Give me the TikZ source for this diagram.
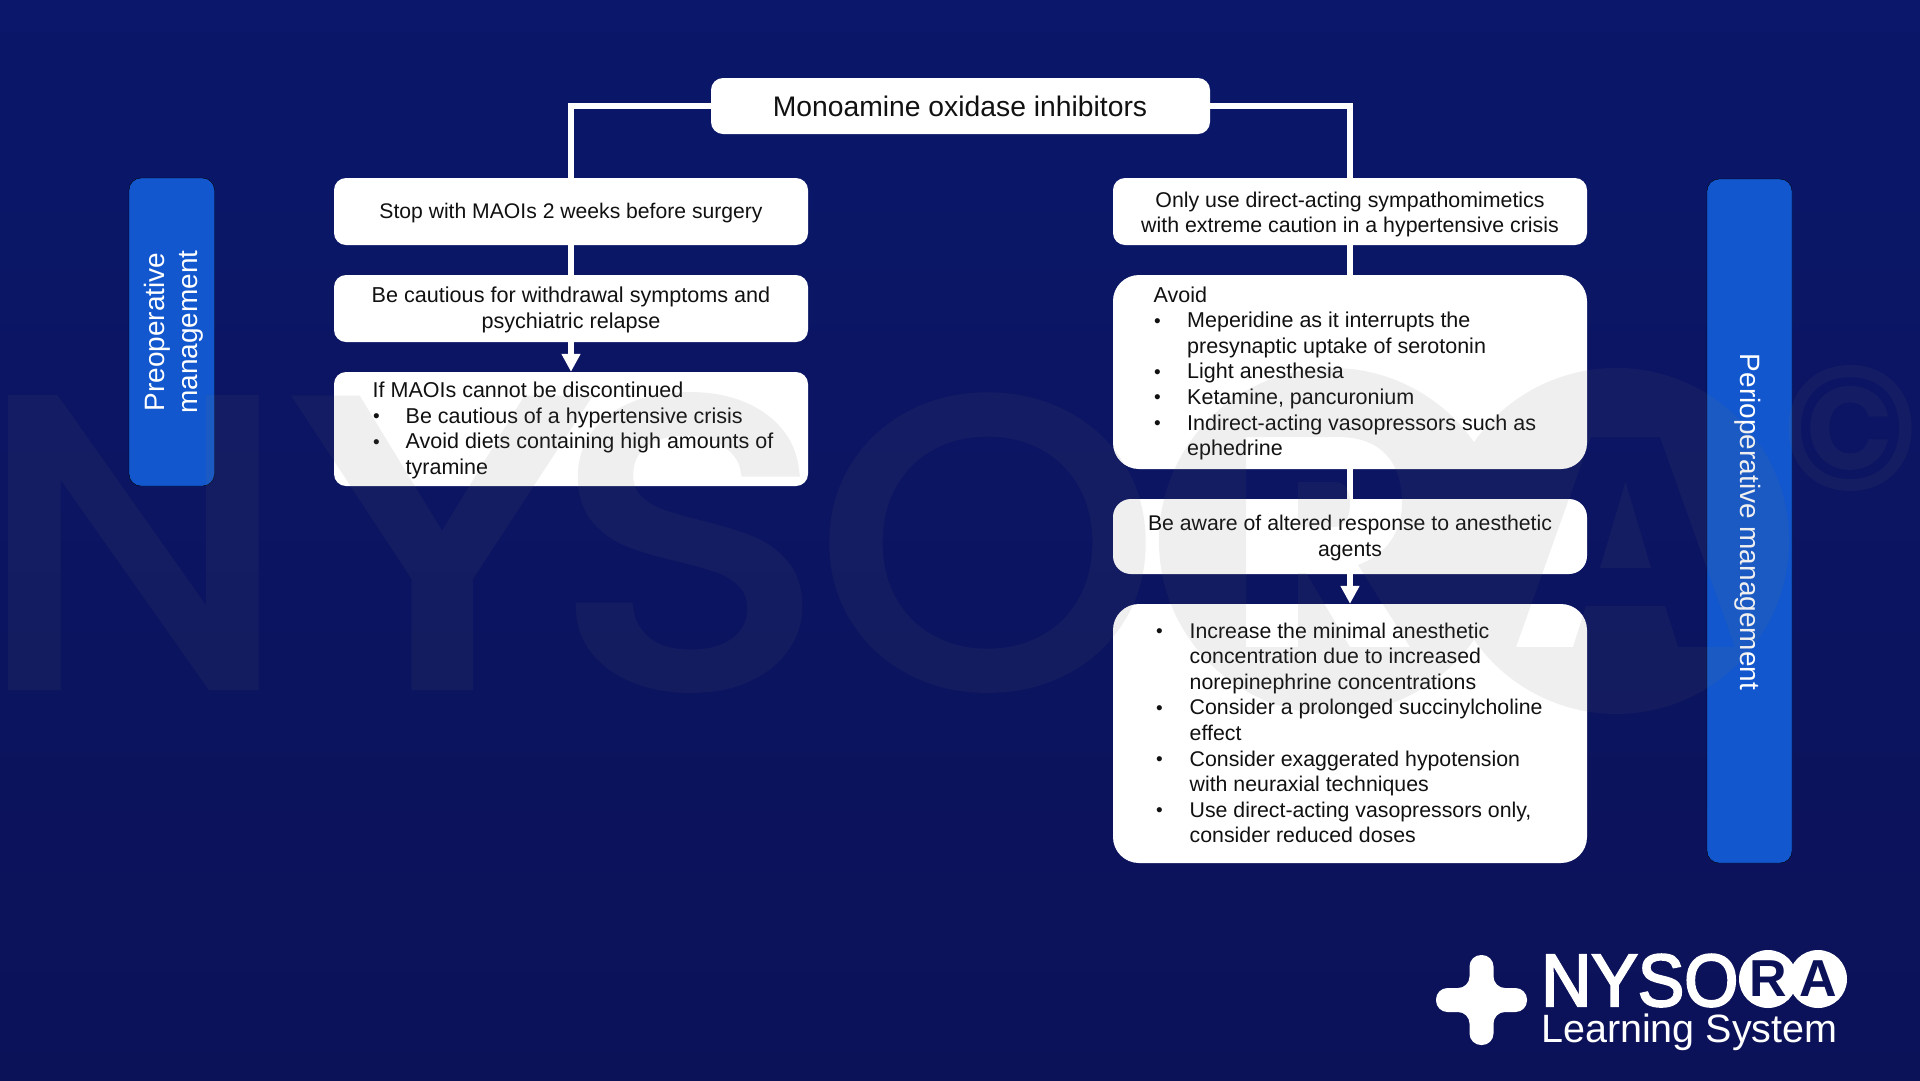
\documentclass[tikz,border=0pt]{standalone}
\usepackage{graphicx}
\usepackage{fontspec}
\usetikzlibrary{arrows.meta}
\setmainfont{Liberation Sans}
\newfontfamily\wmfont[FakeBold=3]{Poppins}
\newfontfamily\logofont[FakeBold=3]{Liberation Sans}
\definecolor{navytop}{HTML}{0A176A}
\definecolor{navymid}{HTML}{0A1562}
\definecolor{navybot}{HTML}{0C1258}
\definecolor{barblue}{HTML}{1257CE}
\definecolor{ink}{HTML}{111111}
\definecolor{wmgray}{gray}{0.42}
\newcommand\blk[3]{\parbox[t]{#1pt}{\fontsize{#2}{25.6}\selectfont\setlength{\baselineskip}{25.6pt}\raggedright #3}}
\newcommand\blc[3]{\parbox[t]{#1pt}{\fontsize{#2}{25.6}\selectfont\setlength{\baselineskip}{25.6pt}\centering #3}}
\newcommand\bul[1]{\makebox[#1pt][l]{\hspace{0.5pt}\fontsize{19}{19}\selectfont\raisebox{0.5pt}{•}}}
\newcommand\wmglyph[2]{\scalebox{#1}[1]{\fontsize{405}{405}\selectfont\wmfont #2}}
\tikzset{
  x=1pt,y=-1pt,
  card/.style={fill=white,rounded corners=12pt,inner sep=0pt},
  bigcard/.style={fill=white,rounded corners=26pt,inner sep=0pt},
  bar/.style={fill=barblue,rounded corners=12pt},
  txt/.style={inner sep=0pt,text=ink},
  link/.style={draw=white,line width=5.5pt},
  linkarrow/.style={link,-{Triangle[length=18pt,width=18pt]}},
  wmark/.style={inner sep=0pt,anchor=base west,text=wmgray},
  sidelabel/.style={inner sep=0pt,text=white,font=\fontsize{28}{33}\selectfont,align=center},
}
\begin{document}
\begin{tikzpicture}
\useasboundingbox (0,0) rectangle (1920,1080);
\shade[top color=navytop,middle color=navymid,bottom color=navybot] (0,0) rectangle (1920,1080);

% side bars
\draw[bar] (129,178) rectangle (214.5,486);
\draw[bar] (1707,179) rectangle (1792,863);
\node[sidelabel,rotate=90] (preop) at (173.5,332) {Preoperative\\management};
\node[sidelabel,rotate=-90] (periop) at (1748,522) {Perioperative management};

% boxes
\node[card,minimum width=499pt,minimum height=56pt] (top) at (960.5,106) {};
\node[card,minimum width=474pt,minimum height=67pt] (l1) at (571,211.5) {};
\node[card,minimum width=474pt,minimum height=67pt] (l2) at (571,308.5) {};
\node[card,minimum width=474pt,minimum height=114pt] (l3) at (571,429) {};
\node[card,minimum width=474pt,minimum height=67pt] (r1) at (1350,211.5) {};
\node[bigcard,minimum width=474pt,minimum height=194pt] (r2) at (1350,372) {};
\node[card,minimum width=474pt,minimum height=75pt,rounded corners=18pt] (r3) at (1350,536.5) {};
\node[bigcard,minimum width=474pt,minimum height=259pt] (r4) at (1350,733.5) {};

% connectors
\draw[link] (top.west) -| (l1.north);
\draw[link] (l1.south) -- (l2.north);
\draw[linkarrow] (l2.south) -- (l3.north);
\draw[link] (top.east) -| (r1.north);
\draw[link] (r1.south) -- (r2.north);
\draw[link] (r2.south) -- (r3.north);
\draw[linkarrow] (r3.south) -- (r4.north);

% texts
\node[txt,font=\fontsize{28.3}{32}\selectfont,anchor=base] (toptxt) at (960,116) {Monoamine oxidase inhibitors};
\node[txt,anchor=base] (l1t) at (571,218.5) {\blc{470}{21.15}{Stop with MAOIs 2 weeks before surgery}};
\node[txt,anchor=base] (l2t) at (571,302.5) {\blc{470}{21.6}{Be cautious for withdrawal symptoms and\\psychiatric relapse}};
\node[txt,anchor=base west] (l3t) at (372.5,397.7) {\blk{430}{21.5}{If MAOIs cannot be discontinued\\
\bul{33}Be cautious of a hypertensive crisis\\
\bul{33}Avoid diets containing high amounts of\\
\hspace*{33pt}tyramine}};
\node[txt,anchor=base] (r1t) at (1350,207) {\blc{470}{21.35}{Only use direct-acting sympathomimetics\\with extreme caution in a hypertensive crisis}};
\node[txt,anchor=base west] (r2t) at (1153.5,302) {\blk{430}{21.5}{Avoid\\
\bul{33.5}Meperidine as it interrupts the\\
\hspace*{33.5pt}presynaptic uptake of serotonin\\
\bul{33.5}Light anesthesia\\
\bul{33.5}Ketamine, pancuronium\\
\bul{33.5}Indirect-acting vasopressors such as\\
\hspace*{33.5pt}ephedrine}};
\node[txt,anchor=base] (r3t) at (1350,530.5) {\blc{470}{21.25}{Be aware of altered response to anesthetic\\agents}};
\node[txt,anchor=base west] (r4t) at (1155.5,638) {\blk{430}{21.3}{\bul{34}Increase the minimal anesthetic\\
\hspace*{34pt}concentration due to increased\\
\hspace*{34pt}norepinephrine concentrations\\
\bul{34}Consider a prolonged succinylcholine\\
\hspace*{34pt}effect\\
\bul{34}Consider exaggerated hypotension\\
\hspace*{34pt}with neuraxial techniques\\
\bul{34}Use direct-acting vasopressors only,\\
\hspace*{34pt}consider reduced doses}};

% watermark
\begin{scope}[transparency group,opacity=.1]
\node[wmark] (wn) at (-19,684) {\wmglyph{1.07}{N}};
\node[wmark] (wy) at (294,684) {\wmglyph{1.25}{Y}};
\node[wmark] (ws) at (557,684) {\wmglyph{1.11}{S}};
\node[wmark] (wo) at (817,684) {\wmglyph{1.07}{O}};
\node[inner sep=0pt,text=wmgray,font=\fontsize{170}{170}\selectfont\wmfont] (wc) at (1850,428) {©};
% the two merged discs with R and A cut out of them
\fill[wmgray,even odd rule]
  (1474,442.2) arc[start angle=-34.8,end angle=-325.2,radius=173]
  arc[start angle=145.2,end angle=-145.2,radius=173] -- cycle
  (1246,437) -- (1338,437) .. controls (1381,437) and (1402,462) .. (1402,503)
  .. controls (1402,532) and (1386,555) .. (1358,565) -- (1410,647) -- (1350,647)
  -- (1306,573) -- (1298,573) -- (1298,647) -- (1246,647) -- cycle
  (1298,482) -- (1334,482) .. controls (1344,482) and (1350,489) .. (1350,503)
  .. controls (1350,519) and (1344,527) .. (1334,527) -- (1298,527) -- cycle
  (1591,437) -- (1660,437) -- (1735,647) -- (1678,647) -- (1665,606) -- (1586,606)
  -- (1573,647) -- (1516,647) -- cycle
  (1625.5,482) -- (1651,568) -- (1600,568) -- cycle;
\end{scope}

% logo
\fill[white,rounded corners=11.5pt] (1469.5,955) -- (1493.5,955) -- (1493.5,988) -- (1527,988) -- (1527,1012) -- (1493.5,1012) -- (1493.5,1045) -- (1469.5,1045) -- (1469.5,1012) -- (1436,1012) -- (1436,988) -- (1469.5,988) -- cycle;
\node[inner sep=0pt,anchor=base west,text=white] (lg1) at (1541,1006) {\scalebox{.94}[1]{\fontsize{74}{74}\selectfont\logofont NYSO}};
\node[circle,fill=white,minimum size=58pt,inner sep=0pt] (cr) at (1768,979) {};
\node[circle,fill=white,minimum size=58pt,inner sep=0pt] (ca) at (1818,979) {};
\node[inner sep=0pt,text=navybot,font=\fontsize{52}{52}\selectfont\bfseries] (lr) at (cr) {R};
\node[inner sep=0pt,text=navybot,font=\fontsize{52}{52}\selectfont\bfseries] (la) at (ca) {A};
\node[inner sep=0pt,anchor=base west,text=white,font=\fontsize{39.5}{40}\selectfont] (lg2) at (1541,1042.5) {Learning System};
\end{tikzpicture}
\end{document}
